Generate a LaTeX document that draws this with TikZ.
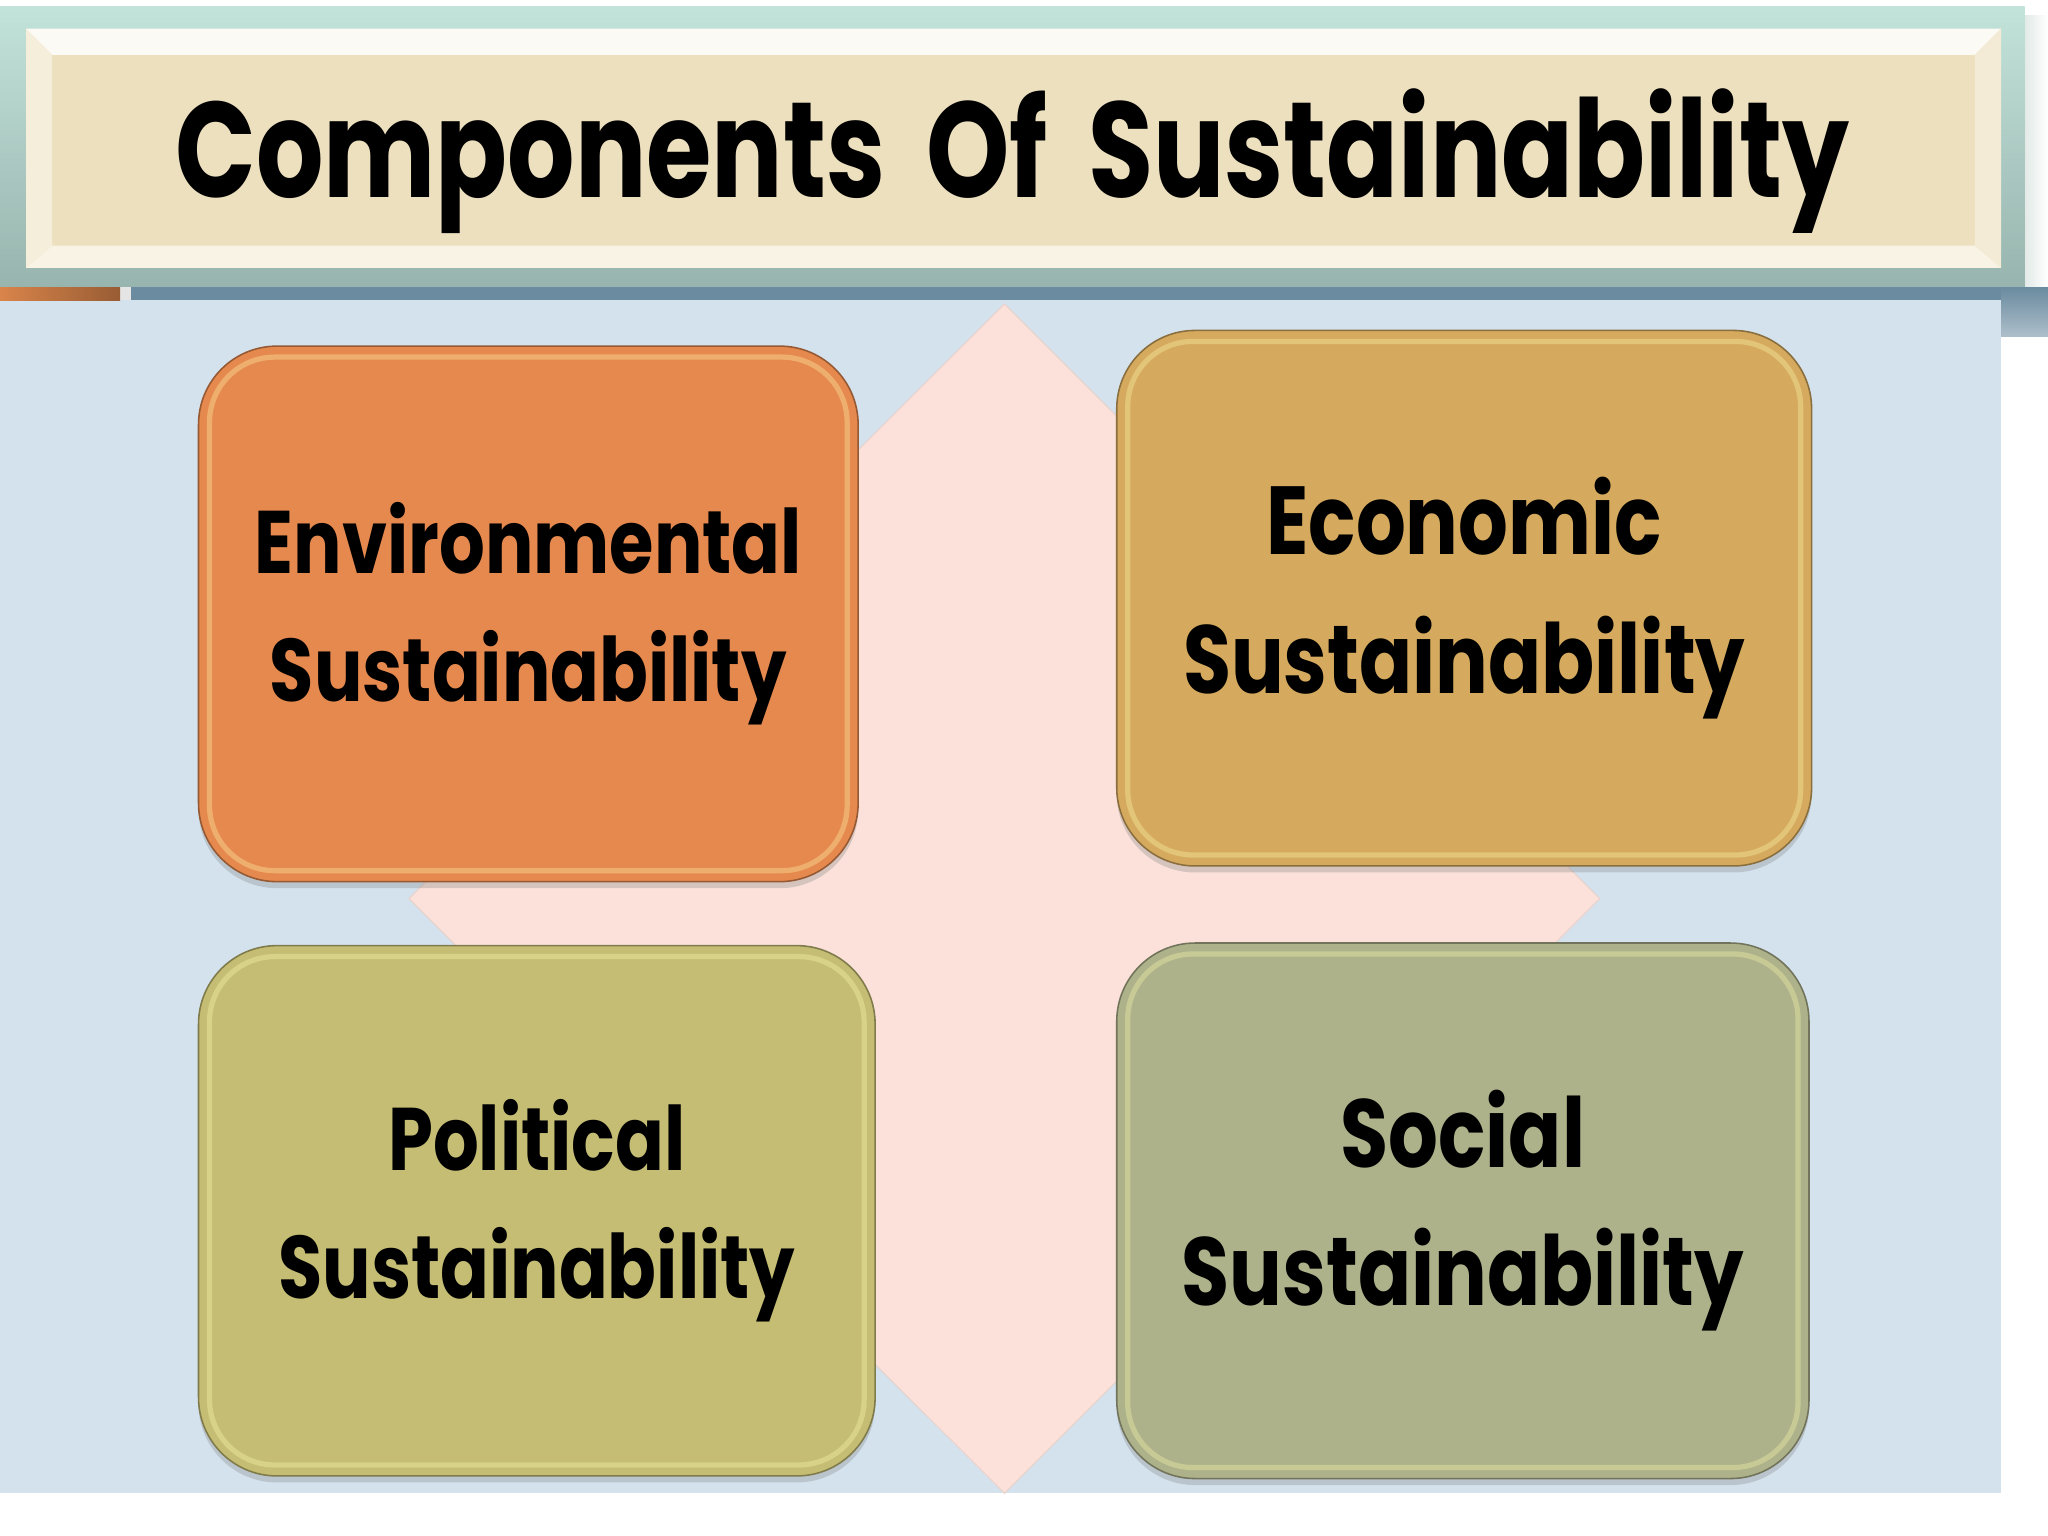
\documentclass[tikz,border=0pt]{standalone}
\usepackage{fontspec}
\usepackage{tikz}
\usetikzlibrary{shapes.geometric,shadows}
\newfontfamily\gothfont{Poppins}[FakeStretch=0.81]
\newfontfamily\titlefont{Poppins}[FakeStretch=0.78]

\definecolor{skyback}{HTML}{D4E2EE}
\definecolor{rosediamond}{HTML}{FBE1DA}
\definecolor{envorange}{HTML}{E6894E}
\definecolor{ecogold}{HTML}{D5AA5E}
\definecolor{pololive}{HTML}{C5BD74}
\definecolor{socsage}{HTML}{AEB28A}
\definecolor{bannercream}{HTML}{EDE0BE}
\definecolor{tealtop}{HTML}{C2E3DA}
\definecolor{tealbot}{HTML}{98B4AE}
\definecolor{stripblue}{HTML}{6B8BA0}
\definecolor{striporange}{HTML}{D9844A}

\newcommand\quadsmall{\gothfont\bfseries\fontsize{34}{49}\selectfont}
\newcommand\quadlarge{\gothfont\bfseries\fontsize{37}{53}\selectfont}

\tikzset{
  quadbox/.style={draw=#1!65!black, line width=0.6pt, fill=#1, rounded corners=30pt,
    inner sep=0pt, align=center,
    drop shadow={shadow xshift=0pt, shadow yshift=-2.5pt, opacity=0.3}},
  quadrim/.style={draw=#1!45!yellow!45!white, line width=2pt, rounded corners=25pt, opacity=0.4},
  smallquad/.style={font=\quadsmall},
  largequad/.style={font=\quadlarge}
}

\begin{document}
\begin{tikzpicture}[x=0.5pt,y=-0.5pt]
  \useasboundingbox (0,0) rectangle (1568,1176);
  % slide background
  \fill[white] (0,0) rectangle (1568,1176);
  \fill[skyback] (0,230) rectangle (1532,1143);

  % title banner
  \shade[left color=tealbot!60!white, right color=white] (1530,12) rectangle (1568,222);
  \shade[top color=tealtop, bottom color=tealbot] (0,5) rectangle (1550,220);
  \fill[bannercream] (20,22) rectangle (1532,205);
  \fill[white!85!bannercream] (20,22) -- (1532,22) -- (1512,42) -- (40,42) -- cycle;
  \fill[white!60!bannercream] (20,205) -- (1532,205) -- (1512,188) -- (40,188) -- cycle;
  \fill[white!45!bannercream] (20,22) -- (40,42) -- (40,188) -- (20,205) -- cycle;
  \fill[white!35!bannercream] (1532,22) -- (1512,42) -- (1512,188) -- (1532,205) -- cycle;
  \node[font=\titlefont\bfseries\fontsize{52}{60}\selectfont, anchor=base, inner sep=0pt]
    (title) at (775,151) {Components\hspace{7pt} Of\hspace{7pt} Sustainability};

  % strips under the banner
  \fill[gray!20] (92,220) rectangle (100,230);
  \shade[left color=striporange, right color=striporange!70!black] (0,220) rectangle (92,230);
  \fill[stripblue] (100,220) rectangle (1532,230);
  \shade[top color=stripblue, bottom color=stripblue!55!white] (1532,220) rectangle (1568,258);

  % diamond behind the quadrants
  \node[diamond, fill=rosediamond, draw=rosediamond!85!gray, line width=0.4pt,
    minimum width=456pt, minimum height=455.5pt, inner sep=0pt] (rhomb) at (769,688) {};

  % four quadrants
  \node[quadbox=envorange, smallquad, minimum width=252.5pt, minimum height=205pt]
    (env) at (404.5,470) {Environmental\\Sustainability};
  \node[quadbox=ecogold, largequad, minimum width=266pt, minimum height=205pt]
    (eco) at (1121,458) {Economic\\Sustainability};
  \node[quadbox=pololive, smallquad, minimum width=259pt, minimum height=203pt]
    (pol) at (411,927) {Political\\Sustainability};
  \node[quadbox=socsage, largequad, minimum width=265pt, minimum height=205pt]
    (soc) at (1120,927) {Social\\Sustainability};

  \foreach \q/\c in {env/envorange,eco/ecogold,pol/pololive,soc/socsage} {
    \draw[quadrim=\c] ([shift={(9,9)}]\q.north west) rectangle ([shift={(-9,-9)}]\q.south east);
  }
\end{tikzpicture}
\end{document}
